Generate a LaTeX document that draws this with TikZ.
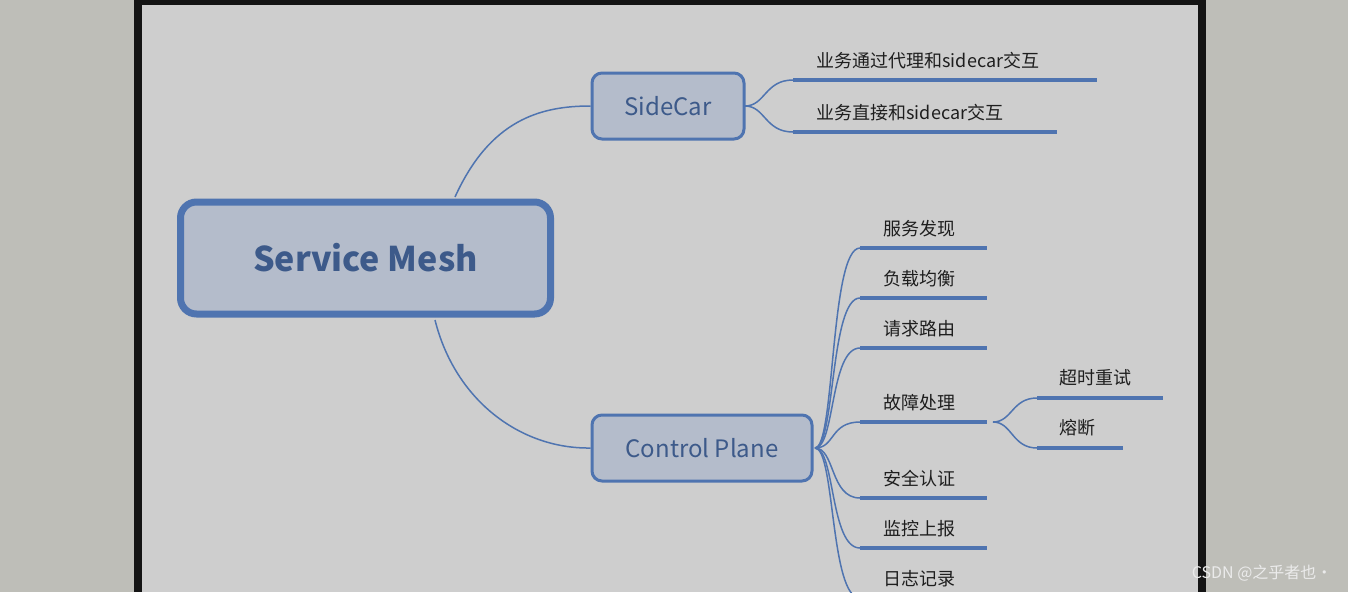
\documentclass[tikz,border=0pt]{standalone}
\usepackage{fontspec}
\setmainfont{Noto Sans CJK SC}
\begin{document}
\begin{tikzpicture}[x=1pt,y=-1pt,
  blu/.style={color={rgb,255:red,79;green,116;blue,176}},
  conn/.style={blu,line width=1.5pt},
  bar/.style={blu,line width=4pt},
  box/.style={draw={rgb,255:red,79;green,116;blue,176},fill={rgb,255:red,180;green,188;blue,203},rounded corners=10pt,text={rgb,255:red,61;green,90;blue,138}},
  lbl/.style={font=\fontsize{18}{20}\selectfont,text={rgb,255:red,30;green,30;blue,30}}]
\useasboundingbox (0,0) rectangle (1348,592);
\fill[color={rgb,255:red,190;green,190;blue,184}] (0,0) rectangle (1348,592);
\fill[color={rgb,255:red,20;green,20;blue,20}] (134,0) rectangle (1206,592);
\fill[color={rgb,255:red,206;green,206;blue,206}] (142,5) rectangle (1198,592);
% main nodes
\node[box,line width=7pt,minimum width=370pt,minimum height=112pt,rounded corners=16pt,font=\fontsize{34}{38}\selectfont\bfseries] (sm) at (365.5,258) {Service Mesh};
\node[box,line width=3pt,minimum width=152pt,minimum height=66pt,font=\fontsize{24}{28}\selectfont] (sc) at (668,106) {SideCar};
\node[box,line width=3pt,minimum width=220pt,minimum height=66pt,font=\fontsize{24}{28}\selectfont] (cp) at (702,448) {Control Plane};
% main connectors
\coordinate (smt) at (455,197);
\coordinate (smb) at (435,320);
\draw[conn] (smt) .. controls (490,120) and (540,106) .. (sc.west);
\draw[conn] (smb) .. controls (455,400) and (520,449) .. (cp.west);
% sidecar leaves
\coordinate (scr) at (745,106);
\coordinate (s1a) at (793,80); \coordinate (s1b) at (1097,80);
\coordinate (s2a) at (793,132); \coordinate (s2b) at (1057,132);
\draw[conn] (scr) .. controls (765,106) and (765,80) .. (s1a);
\draw[conn] (scr) .. controls (765,106) and (765,132) .. (s2a);
\draw[bar] (s1a) -- (s1b);
\draw[bar] (s2a) -- (s2b);
\node[lbl,anchor=west] (t1) at (813,61) {业务通过代理和sidecar交互};
\node[lbl,anchor=west] (t2) at (813,113) {业务直接和sidecar交互};
% control plane leaves
\coordinate (cpr) at (815,448);
\foreach \y/\t [count=\i] in {248/服务发现,298/负载均衡,348/请求路由,422/故障处理,498/安全认证,548/监控上报,598/日志记录}{
  \coordinate (c\i a) at (860,\y);
  \coordinate (c\i b) at (987,\y);
  \draw[conn] (cpr) .. controls (835,448) and (830,\y) .. (c\i a);
  \draw[bar] (c\i a) -- (c\i b);
  \node[lbl,anchor=west] (c\i t) at (880,\y-19) {\t};
}
% fault children
\coordinate (fr) at (993,422);
\coordinate (f1a) at (1037,398); \coordinate (f1b) at (1163,398);
\coordinate (f2a) at (1037,448); \coordinate (f2b) at (1123,448);
\draw[conn] (fr) .. controls (1012,422) and (1012,398) .. (f1a);
\draw[conn] (fr) .. controls (1012,422) and (1012,448) .. (f2a);
\draw[bar] (f1a) -- (f1b);
\draw[bar] (f2a) -- (f2b);
\node[lbl,anchor=west] (ft1) at (1056,378) {超时重试};
\node[lbl,anchor=west] (ft2) at (1056,428) {熔断};
\node[anchor=east,font=\fontsize{16}{18}\selectfont,text={rgb,255:red,235;green,235;blue,235}] (wm) at (1336,573) {CSDN @之乎者也·};
\end{tikzpicture}
\end{document}
